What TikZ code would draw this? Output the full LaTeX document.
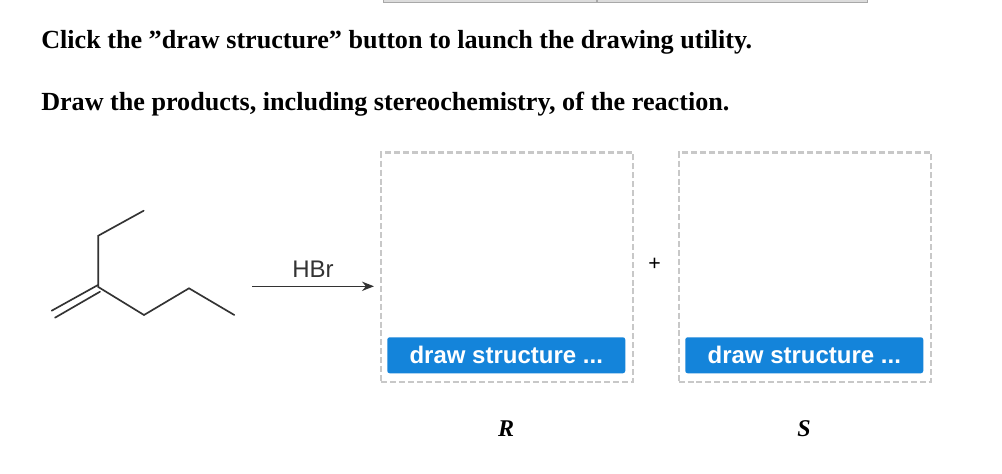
\documentclass[tikz,border=0pt]{standalone}
\usepackage{fontspec}
\setmainfont{Liberation Serif}
\setsansfont{Liberation Sans}
\usetikzlibrary{arrows.meta}
\definecolor{dashgray}{HTML}{C8C8C8}
\definecolor{btnblue}{HTML}{1484DA}
\definecolor{bondgray}{HTML}{333333}
\definecolor{barfill}{HTML}{DCDCDC}
\definecolor{barline}{HTML}{A8A8A8}
\tikzset{
  headline/.style={anchor=base west,inner sep=0pt,font=\fontsize{19.6pt}{22pt}\bfseries\selectfont},
  answerbox/.style={draw=dashgray,line width=1.6pt,dash pattern=on 4.5pt off 2.2pt,minimum width=189pt,minimum height=172pt,inner sep=0pt,anchor=north west},
  drawbtn/.style={fill=btnblue,rounded corners=1.8pt,text=white,minimum width=178.5pt,minimum height=27pt,inner sep=0pt,anchor=north west,font=\sffamily\bfseries\fontsize{18pt}{20pt}\selectfont},
  bond/.style={draw=bondgray,line width=1.25pt,line cap=round},
  reactarrow/.style={draw=bondgray,line width=1.1pt,-{Stealth[length=9pt,width=7pt]}},
  reagent/.style={font=\sffamily\fontsize{18pt}{20pt}\selectfont,text=bondgray,inner sep=0pt,anchor=base},
  stereo/.style={font=\bfseries\itshape\fontsize{18pt}{20pt}\selectfont,inner sep=0pt,anchor=base},
  topbar/.style={fill=barfill,draw=barline,line width=0.75pt,minimum height=2.25pt,inner sep=0pt,anchor=south west}
}
\begin{document}
\begin{tikzpicture}[x=0.75pt,y=-0.75pt]
\useasboundingbox (0,0) rectangle (1002,474);
\fill[white] (0,0) rectangle (1002,474);
\path[topbar] (383,0) rectangle (596,2.4);
\path[topbar] (597,0) rectangle (867,2.4);
\node[headline] (line1) at (41,49) {Click the "draw structure" button to launch the drawing utility.};
\node[headline] (line2) at (41,111) {Draw the products, including stereochemistry, of the reaction.};
\coordinate (c1) at (143.7,210.7);
\coordinate (c2) at (98.3,235.7);
\coordinate (c3) at (98.3,287);
\coordinate (c4) at (144,315);
\coordinate (c5) at (189,288.3);
\coordinate (c6) at (234.3,315);
\coordinate (d1a) at (51.7,310.7);
\coordinate (d1b) at (98,285);
\coordinate (d2a) at (55,317.7);
\coordinate (d2b) at (100,291.7);
\draw[bond] (c1) -- (c2) -- (c3) -- (c4) -- (c5) -- (c6);
\draw[bond] (d1a) -- (d1b);
\draw[bond] (d2a) -- (d2b);
\node[reagent] (hbr) at (313,277.5) {HBr};
\coordinate (arrS) at (252,286.3);
\coordinate (arrE) at (374,286.3);
\draw[reactarrow] (arrS) -- (arrE);
\node[answerbox] (boxL) at (380,151.5) {};
\node[answerbox] (boxR) at (677.5,151.5) {};
\node[drawbtn] (btnL) at (387,337) {draw structure ...};
\node[drawbtn] (btnR) at (685,337) {draw structure ...};
\node[font=\sffamily\fontsize{16pt}{18pt}\selectfont,inner sep=0pt] (plus) at (654.5,264) {+};
\node[stereo] (labR) at (506,436) {R};
\node[stereo] (labS) at (804,436) {S};
\end{tikzpicture}
\end{document}
